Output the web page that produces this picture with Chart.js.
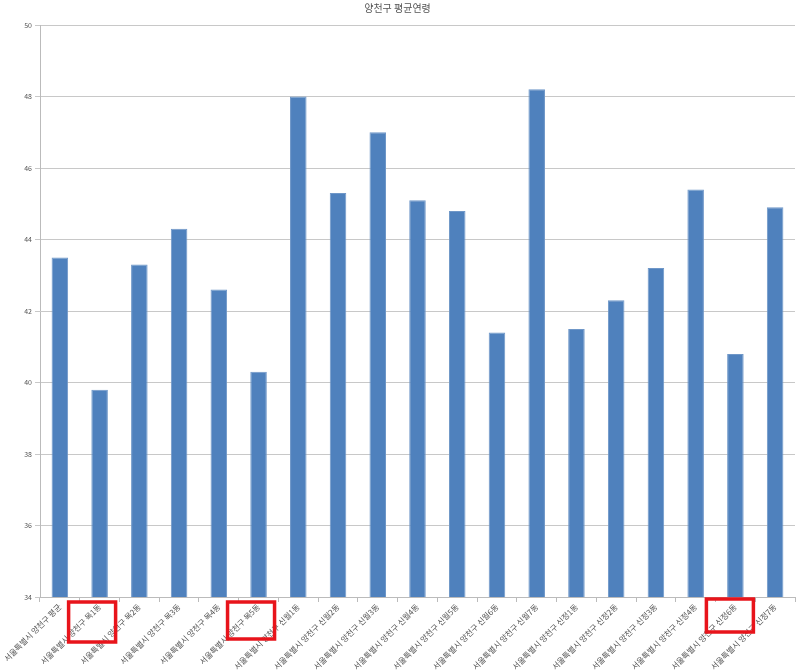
<!DOCTYPE html>
<html>
<head>
<meta charset="utf-8">
<script src="https://cdn.jsdelivr.net/npm/chart.js@4"></script>
<style>
  html, body { margin: 0; padding: 0; background: #fff; }
  #wrap { width: 800px; height: 671px; }
</style>
</head>
<body>
<div id="wrap"><canvas id="chart"></canvas></div>
<script>
const labels = [
  "서울특별시 양천구 평균", "서울특별시 양천구 목1동", "서울특별시 양천구 목2동",
  "서울특별시 양천구 목3동", "서울특별시 양천구 목4동", "서울특별시 양천구 목5동",
  "서울특별시 양천구 신월1동", "서울특별시 양천구 신월2동", "서울특별시 양천구 신월3동",
  "서울특별시 양천구 신월4동", "서울특별시 양천구 신월5동", "서울특별시 양천구 신월6동",
  "서울특별시 양천구 신월7동", "서울특별시 양천구 신정1동", "서울특별시 양천구 신정2동",
  "서울특별시 양천구 신정3동", "서울특별시 양천구 신정4동", "서울특별시 양천구 신정6동",
  "서울특별시 양천구 신정7동"
];
const avgAge = [43.5, 39.8, 43.3, 44.3, 42.6, 40.3, 48.0, 45.3, 47.0, 45.1, 44.8, 41.4, 48.2, 41.5, 42.3, 43.2, 45.4, 40.8, 44.9];
const highlighted = [1, 5, 17]; // labels boxed in red

const font = "'Noto Sans CJK KR', 'Noto Sans', sans-serif";

// red boxes drawn over selected tick labels
const boxPlugin = {
  id: "boxes",
  afterDraw(c) {
    const x = c.scales.x, ctx = c.ctx;
    const top = c.chartArea.bottom;
    ctx.save();
    ctx.strokeStyle = "#e8141b";
    ctx.lineWidth = 3.5;
    highlighted.forEach((i, k) => {
      const cx = x.getPixelForValue(i);
      if (k === 2) ctx.strokeRect(cx - 29, top + 2, 47, 33);
      else ctx.strokeRect(cx - 31, top + 5, 47, k === 0 ? 40 : 37);
    });
    ctx.restore();
  }
};

new Chart(document.getElementById("chart"), {
  type: "bar",
  data: {
    labels,
    datasets: [{
      label: "평균연령",
      data: avgAge,
      backgroundColor: "#4f81bd",
      borderColor: "#6f97c8",
      borderWidth: 1,
      barPercentage: 0.8,
      categoryPercentage: 0.52,
    }],
  },
  options: {
    responsive: true,
    maintainAspectRatio: false,
    animation: false,
    layout: { padding: { top: 0, right: 5, left: 0, bottom: 0 } },
    plugins: {
      legend: { display: false },
      tooltip: { enabled: false },
      title: {
        display: true,
        text: "양천구 평균연령",
        color: "#555",
        font: { family: font, size: 10, weight: "normal" },
        padding: { top: 2, bottom: 11 },
      },
    },
    scales: {
      x: {
        afterFit: s => { s.height = 74; },
        ticks: {
          color: "#555",
          font: { family: font, size: 8 },
          maxRotation: 45,
          minRotation: 45,
          autoSkip: false,
          padding: 0,
        },
        grid: { drawOnChartArea: false, color: "#bbb", tickLength: 5, offset: true },
        border: { color: "#bbb" },
      },
      y: {
        min: 34,
        max: 50,
        afterFit: s => { s.width = 40; },
        ticks: {
          stepSize: 2,
          color: "#555",
          font: { family: font, size: 7 },
          padding: 3,
        },
        grid: { color: "#c8c8c8", tickLength: 5 },
        border: { color: "#bbb" },
      },
    },
  },
  plugins: [boxPlugin],
});
</script>
</body>
</html>
